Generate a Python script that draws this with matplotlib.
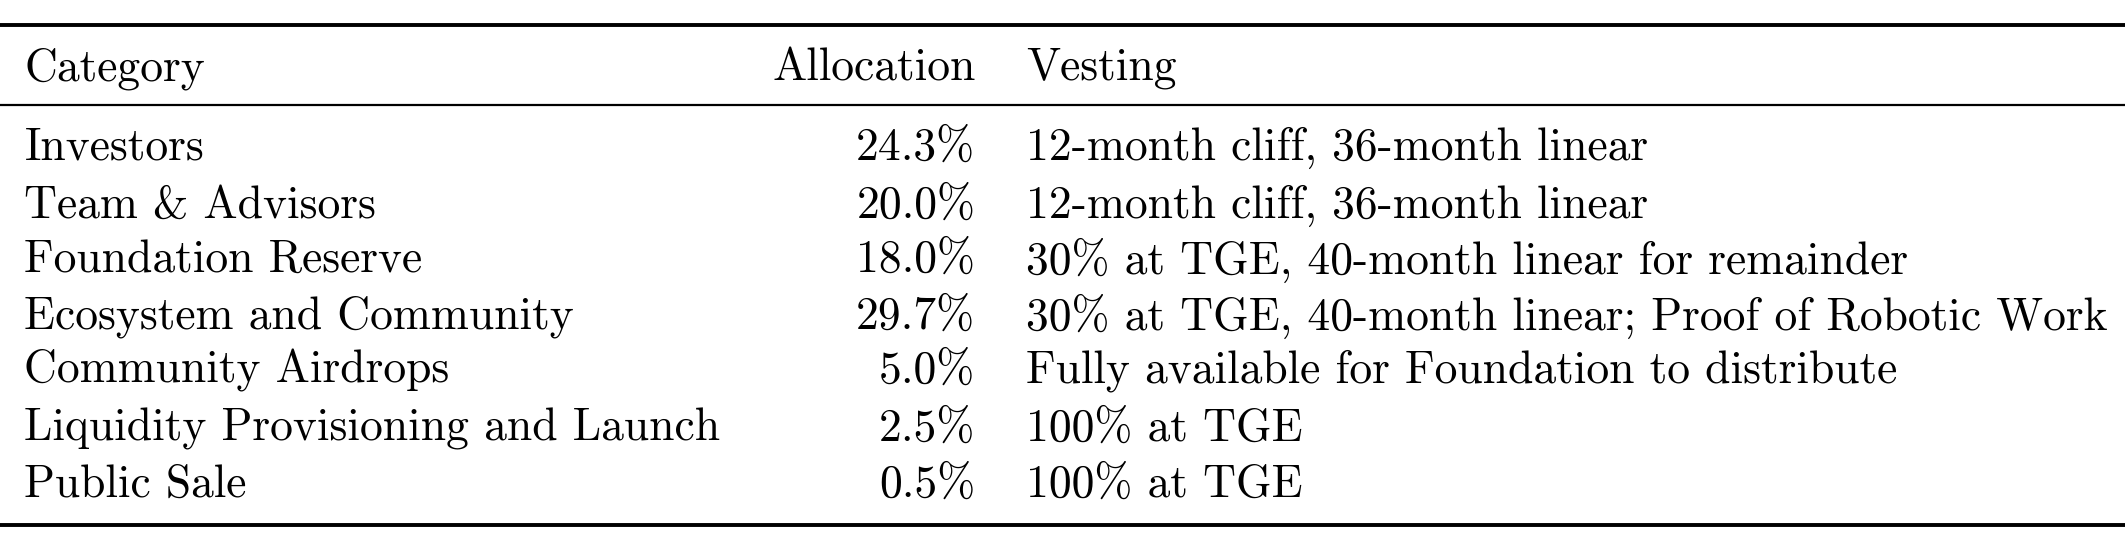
import matplotlib
matplotlib.use("Agg")
import matplotlib.pyplot as plt

categories = ["Investors", "Team & Advisors", "Foundation Reserve", "Ecosystem and Community",
              "Community Airdrops", "Liquidity Provisioning and Launch", "Public Sale"]
allocations = ["24.3%", "20.0%", "18.0%", "29.7%", "5.0%", "2.5%", "0.5%"]
vesting = ["12-month cliff, 36-month linear",
           "12-month cliff, 36-month linear",
           "30% at TGE, 40-month linear for remainder",
           "30% at TGE, 40-month linear; Proof of Robotic Work",
           "Fully available for Foundation to distribute",
           "100% at TGE",
           "100% at TGE"]
headers = ["Category", "Allocation", "Vesting"]

plt.rcParams["font.family"] = ["cmr10", "DejaVu Serif"]
plt.rcParams["axes.unicode_minus"] = False

fig = plt.figure(figsize=(21.25, 5.35), dpi=100)
ax = fig.add_axes([0, 0, 1, 1])
ax.set_xlim(0, 1)
ax.set_ylim(1, 0)
ax.axis("off")

fs = 32.8
x_cat, x_alloc, x_vest = 0.0115, 0.459, 0.483
ax.axhline(0.046, color="black", lw=2.8)
ax.axhline(0.197, color="black", lw=1.6)
ax.axhline(0.982, color="black", lw=2.8)

y_head = 0.128
ax.text(x_cat, y_head, headers[0], fontsize=fs, va="center", ha="left")
ax.text(x_alloc, y_head, headers[1], fontsize=fs, va="center", ha="right")
ax.text(x_vest, y_head, headers[2], fontsize=fs, va="center", ha="left")

row_y = [0.276, 0.384, 0.486, 0.592, 0.693, 0.802, 0.906]
for y, c, a, v in zip(row_y, categories, allocations, vesting):
    ax.text(x_cat, y, c, fontsize=fs, va="center", ha="left")
    ax.text(x_alloc, y, a, fontsize=fs, va="center", ha="right")
    ax.text(x_vest, y, v, fontsize=fs, va="center", ha="left")

fig.savefig("out.png", dpi=100)
